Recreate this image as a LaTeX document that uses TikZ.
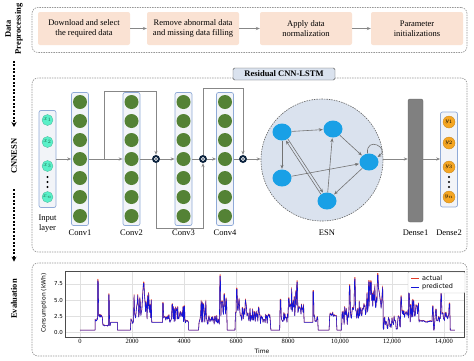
\documentclass[tikz,border=0pt]{standalone}
\usepackage{fontspec}
\setmainfont{Liberation Serif}
\newfontfamily\plotfont{DejaVu Sans}
\usetikzlibrary{arrows.meta,shapes.geometric}

\definecolor{peach}{RGB}{250,226,211}
\definecolor{panelgray}{RGB}{150,150,150}
\definecolor{flowgray}{RGB}{135,135,135}
\definecolor{layerblue}{RGB}{143,170,215}
\definecolor{layerfill}{RGB}{242,244,248}
\definecolor{convgreen}{RGB}{84,130,53}
\definecolor{inputcyan}{RGB}{90,240,200}
\definecolor{inputtext}{RGB}{30,110,80}
\definecolor{junctionblue}{RGB}{12,35,62}
\definecolor{esnfill}{RGB}{218,226,238}
\definecolor{esnnode}{RGB}{25,160,230}
\definecolor{densegray}{RGB}{128,128,128}
\definecolor{outorange}{RGB}{245,166,35}
\definecolor{actualred}{RGB}{225,60,40}
\definecolor{predblue}{RGB}{20,20,215}

\tikzset{
  panel/.style={draw=panelgray, dash pattern=on 1.5pt off 1pt, rounded corners=6pt, minimum width=435pt, inner sep=0pt, line width=0.6pt},
  stepbox/.style={fill=peach, rounded corners=2pt, minimum width=92pt, minimum height=33pt, align=center, font=\fontsize{8.5}{10}\selectfont},
  stagelabel/.style={rotate=90, align=center, font=\fontsize{8.5}{10}\selectfont\bfseries},
  stagearrow/.style={draw=black, line width=1.2pt, dash pattern=on 2pt off 1.5pt, -{Stealth[length=5pt,width=5pt]}},
  flow/.style={draw=flowgray, line width=0.7pt},
  titlebox/.style={draw=black!70, fill=esnfill, rounded corners=1.5pt, minimum width=102pt, minimum height=12pt, inner sep=0pt, font=\fontsize{8.5}{10}\selectfont\bfseries},
  layerbox/.style={draw=layerblue, fill=layerfill, rounded corners=2pt, minimum width=17pt, inner sep=0pt, line width=0.7pt},
  neuron/.style={circle, fill=convgreen, minimum size=14pt, inner sep=0pt},
  innode/.style={circle, fill=inputcyan, draw=inputcyan!75!black, line width=0.3pt, minimum size=11pt, inner sep=0pt, text=inputtext, font=\fontsize{6}{6}\selectfont},
  outnode/.style={circle, fill=outorange, draw=outorange!80!black, line width=0.3pt, minimum size=12pt, inner sep=0pt, font=\fontsize{6}{6}\selectfont},
  junction/.style={circle, fill=junctionblue, minimum size=8pt, inner sep=0pt,
    path picture={\draw[white, line width=0.6pt] (path picture bounding box.center) circle (1.6pt);}},
  caption/.style={font=\fontsize{8.5}{10}\selectfont},
  esncircle/.style={circle, draw=black!60, fill=esnfill, dash pattern=on 1.5pt off 1pt, line width=0.6pt, minimum size=122pt, inner sep=0pt},
  reservoir/.style={ellipse, fill=esnnode, minimum width=19pt, minimum height=17pt, inner sep=0pt},
  esnlink/.style={draw=black!55, line width=0.6pt, ->, shorten >=0.5pt},
  densebar/.style={draw=black!60, fill=densegray, rounded corners=2pt, minimum width=15pt, minimum height=123pt, inner sep=0pt},
  gridline/.style={draw=black!12, line width=0.4pt},
  ticklab/.style={font=\fontsize{6.5}{7}\selectfont, inner sep=1.5pt},
  yticklab/.style={font=\plotfont\fontsize{5.5}{6}\selectfont, inner sep=2pt},
  axislab/.style={font=\plotfont\fontsize{6}{7}\selectfont},
  legendtext/.style={font=\plotfont\fontsize{6.5}{7}\selectfont, inner sep=0pt, anchor=west},
}

% segments of the load curve: start/steps/base/spread
\def\loaddata{0/14/0.3/0, 580/2/1.5/1, 680/0/8.0/0, 720/3/2.2/0.6, 880/5/0.9/0.3, 1100/0/5.8/0, 1140/0/1.0/0, 1180/6/1.5/0, 1440/12/0.3/0, 1960/2/0.3/2.5, 2060/8/2/4, 2440/0/7.6/0, 2480/6/2/4.5, 2760/10/1.5/0, 3180/0/4.5/0, 3220/7/1.5/1.2, 3540/0/4.3/0, 3580/10/1.6/2.3, 4000/0/4.0/0, 4040/3/1.2/0.8, 4180/9/0.3/0, 4580/6/1.5/3.4, 4860/12/1.2/1.5, 5380/0/8.7/0, 5420/5/2/4, 5660/7/0.3/0, 5980/0/3/0, 6020/0/6.7/0, 6060/8/1.8/3.6, 6420/10/1.5/2.3, 6860/0/3.8/0, 6900/10/1.3/1.5, 7340/8/0.3/0, 7700/0/5/0, 7740/6/1.5/1.5, 8020/0/5.2/0, 8060/6/2.5/4.5, 8340/0/7.8/0, 8380/5/2.5/2, 8620/8/1.5/0, 8960/0/6.3/0, 9000/3/1.5/1, 9160/10/0.3/0, 9600/6/2.2/1, 9880/4/0.3/0, 10080/6/1/3, 10360/0/7.2/0, 10400/3/1.5/3, 10560/0/8.3/0, 10600/10/2/3, 11040/9/3/5, 11440/0/8.9/0, 11480/4/3/4, 11660/16/0.3/2.2, 12340/0/5.5/0, 12380/6/2/2, 12640/0/6.5/0, 12680/8/1.5/3.5, 13040/12/1.5/0.3, 13560/0/4/0, 13600/0/0.3/0, 13680/0/3.5/0, 13720/3/1.5/1, 13880/0/6/0, 13920/6/1.6/1.5, 14200/0/4.4/0, 14240/4/0.3/0}

\begin{document}
\begin{tikzpicture}[x=1pt, y=-1pt, >={Stealth[length=4pt,width=3.2pt]}]
    \useasboundingbox (0,0) rectangle (474,360);

    % stages on the left
    \node[stagelabel] (stpre) at (14,29) {Data\\Preprocessing};
    \node[stagelabel] (stcnn) at (14,156) {CNNESN};
    \node[stagelabel] (steval) at (14,299) {Evaluation};
    \draw[stagearrow] ([yshift=-3pt]stpre.west) -- ([yshift=8pt]stcnn.east);
    \draw[stagearrow] ([yshift=-12pt]stcnn.west) -- ([yshift=14pt]steval.east);

    % data preprocessing
    \node[panel, minimum height=45pt] (prepanel) at (249.5,30) {};
    \node[stepbox] (pp1) at (84,28.5) {Download and select\\the required data};
    \node[stepbox] (pp2) at (193,28.5) {Remove abnormal data\\and missing data filling};
    \node[stepbox] (pp3) at (306,28.5) {Apply data\\normalization};
    \node[stepbox] (pp4) at (417,28.5) {Parameter\\initializations};
    \draw[flow,->] (pp1) -- (pp2);
    \draw[flow,->] (pp2) -- (pp3);
    \draw[flow,->] (pp3) -- (pp4);

    % residual CNN-LSTM
    \node[panel, minimum height=174pt] (cnnpanel) at (249.5,165) {};
    \node[titlebox] (title) at (284,74) {Residual CNN-LSTM};

    \node[layerbox, minimum height=97pt] (inp) at (47.5,159) {};
    \foreach \n/\y in {1/120, 2/142, 3/166, n/197}
        \node[innode] (x\n) at (47.5,\y) {$x_\n$};
    \foreach \y in {177,182,187}
        \fill (47.5,\y) circle (1.2pt);
    \node[caption, align=center] (inplab) at (47.5,224) {Input\\layer};

    \foreach \c/\x in {1/80, 2/131.5, 3/183.5, 4/225} {
        \node[layerbox, minimum height=133pt] (conv\c) at (\x,159) {};
        \foreach \r in {1,...,7}
            \node[neuron] (c\c n\r) at (\x,{102+19*(\r-1)}) {};
        \node[caption] (conv\c lab) at (\x,233) {Conv\c};
    }

    \coordinate (br1) at (104,159);
    \node[junction] (j1) at (156,159) {};
    \node[junction] (j2) at (203,159) {};
    \node[junction] (j3) at (243,159) {};

    \draw[flow,->] (inp) -- (conv1);
    \draw[flow,->] (conv1) -- (conv2);
    \draw[flow] (conv2) -- (j1);
    \draw[flow,->] (j1) -- (conv3);
    \draw[flow] (conv3) -- (j2);
    \draw[flow,->] (j2) -- (conv4);
    \draw[flow] (conv4) -- (j3);
    \draw[flow,->] (br1) |- ([yshift=68pt]j1.center) -- (j1);
    \draw[flow,->] (j1) -- ([yshift=-69pt]j1.center) -| (j2);
    \draw[flow,->] (j2) -- ([yshift=71pt]j2.center) -| (j3);

    % ESN reservoir
    \node[esncircle] (esn) at (322,160) {};
    \node[reservoir] (ra) at (282,132) {};
    \node[reservoir] (rb) at (333,129) {};
    \node[reservoir] (rc) at (282,178) {};
    \node[reservoir] (rd) at (327,201) {};
    \node[reservoir] (re) at (369,162) {};
    \draw[esnlink] (ra) -- (rb);
    \draw[esnlink] (ra) -- (rc);
    \draw[esnlink] (ra.-50) -- (rd.115);
    \draw[esnlink] (rd.132) -- (ra.-66);
    \draw[esnlink] (rd) -- (rb);
    \draw[esnlink] (rb) -- (re);
    \draw[esnlink] (rc) -- (re);
    \draw[esnlink] (re) -- (rd);
    \draw[esnlink] (re.100) .. controls +(95:18pt) and +(35:16pt) .. (re.30);
    \node[caption] (esnlab) at (327,233) {ESN};
    \draw[flow,->] (j3) -- (j3 -| esn.west);

    % dense layers
    \node[densebar] (dense1) at (415.5,160.5) {};
    \node[layerbox, minimum height=95pt] (dense2) at (449,159.5) {};
    \foreach \n/\y in {1/122, 2/143, 3/167, n/197}
        \node[outnode] (y\n) at (449,\y) {$y_\n$};
    \foreach \y in {177,182,187}
        \fill (449,\y) circle (1.2pt);
    \node[caption] (dense1lab) at (415.5,233) {Dense1};
    \node[caption] (dense2lab) at (449,233) {Dense2};
    \draw[flow,->] (esn.east |- j3) -- (dense1.west |- j3);
    \draw[flow,->] (dense1.east |- j3) -- (dense2.west |- j3);

    % evaluation
    \node[panel, minimum height=93pt] (evalpanel) at (249.5,309.5) {};
    \begin{scope}[xshift=80pt, yshift=-332pt, x=0.026pt, y=6.4pt]
        \foreach \t in {0,2000,...,14000}
            \draw[gridline] (\t,-0.78) -- (\t,9.53);
        \foreach \v in {0,2.5,5,7.5}
            \draw[gridline] (-577,\v) -- (14769,\v);
        \pgfmathsetseed{11}
        \draw[actualred, line width=0.55pt, line join=round] (0,0.3)
            \foreach \a/\k/\l/\m in \loaddata {\foreach \i in {0,...,\k} {-- ({\a+40*\i},{1.03*(\l+\m*rnd)}) -- ({\a+40*\i+20},{1.03*(\l+\m*rnd)})}};
        \pgfmathsetseed{11}
        \draw[predblue, line width=0.55pt, line join=round] (0,0.3)
            \foreach \a/\k/\l/\m in \loaddata {\foreach \i in {0,...,\k} {-- ({\a+40*\i},{\l+\m*rnd}) -- ({\a+40*\i+20},{\l+\m*rnd})}};
        \draw[black!70, line width=0.5pt] (-577,-0.78) rectangle (14769,9.53);
        \foreach \t/\s in {0/0, 2000/2000, 4000/4000, 6000/6000, 8000/8000, 10000/{10,000}, 12000/{12,000}, 14000/{14,000}}
            \node[ticklab, anchor=north] (xt\t) at (\t,-0.78) {\s};
        \foreach \v/\s in {0/0.0, 2.5/2.5, 5/5.0, 7.5/7.5}
            \node[yticklab, anchor=east] (yt\s) at (-577,\v) {\s};
    \end{scope}
    \node[axislab] (timelab) at (262,351) {Time};
    \node[axislab, rotate=90] (conslab) at (44,303) {Consumption (kWh)};
    \node[draw=black!25, fill=white, rounded corners=1pt, minimum width=57pt, minimum height=21pt, inner sep=0pt] (legend) at (436.5,282.5) {};
    \draw[actualred, line width=0.7pt] (411,278) -- (419,278);
    \draw[predblue, line width=0.7pt] (411,287) -- (419,287);
    \node[legendtext] (legact) at (422,278) {actual};
    \node[legendtext] (legpred) at (422,287) {predicted};
\end{tikzpicture}
\end{document}
